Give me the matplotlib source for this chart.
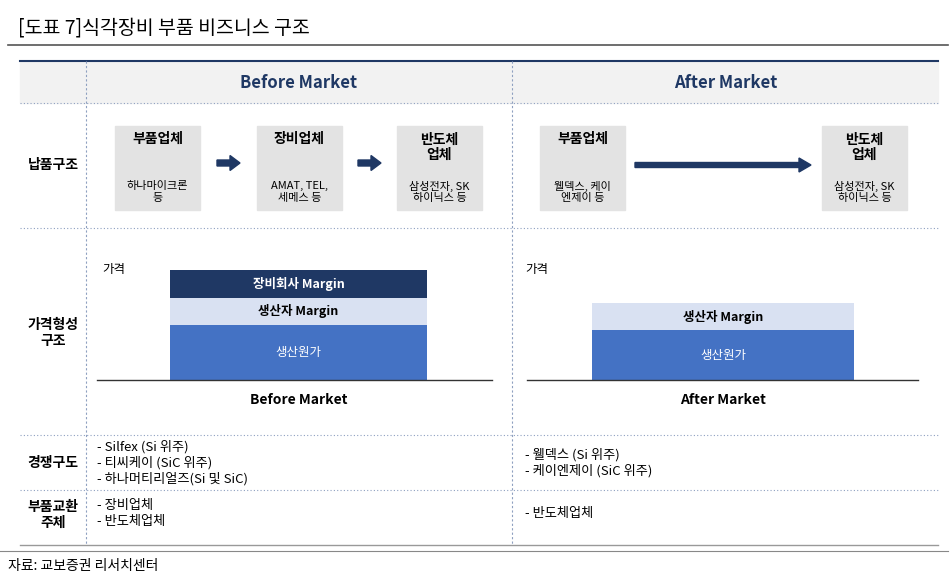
import matplotlib
matplotlib.use("Agg")
import matplotlib.pyplot as plt
from matplotlib.patches import Rectangle, FancyArrow

plt.rcParams['font.family'] = ['Noto Sans CJK KR', 'DejaVu Sans']

title = "[도표 7]식각장비 부품 비즈니스 구조"
headers = ["Before Market", "After Market"]
row_labels = ["납품구조", "가격형성\n구조", "경쟁구도", "부품교환\n주체"]
before_boxes = [("부품업체", "하나마이크론\n등"), ("장비업체", "AMAT, TEL,\n세메스 등"), ("반도체\n업체", "삼성전자, SK\n하이닉스 등")]
after_boxes = [("부품업체", "웰덱스, 케이\n엔제이 등"), ("반도체\n업체", "삼성전자, SK\n하이닉스 등")]
before_layers = ["생산원가", "생산자 Margin", "장비회사 Margin"]
before_vals = [55, 27, 28]
after_layers = ["생산원가", "생산자 Margin"]
after_vals = [50, 27]
layer_colors = ["#4472c4", "#d9e1f2", "#1f3864"]
layer_text = ["white", "black", "white"]
comp_before = ["- Silfex (Si 위주)", "- 티씨케이 (SiC 위주)", "- 하나머티리얼즈(Si 및 SiC)"]
comp_after = ["- 웰덱스 (Si 위주)", "- 케이엔제이 (SiC 위주)"]
exch_before = ["- 장비업체", "- 반도체업체"]
exch_after = ["- 반도체업체"]
source = "자료: 교보증권 리서치센터"

fig = plt.figure(figsize=(9.53, 5.78), dpi=100)
ax = fig.add_axes([0, 0, 1, 1])
ax.set_xlim(0, 953); ax.set_ylim(578, 0); ax.axis('off')

ax.text(18, 28, title, fontsize=14, va='center', ha='left')
ax.plot([8, 948], [45, 45], color='#555555', lw=1.2)

ax.add_patch(Rectangle((20, 61), 918, 42, color='#f2f2f2', zorder=0))
ax.plot([20, 938], [61, 61], color='#1f3864', lw=1.5)
ax.text(299, 83, headers[0], fontsize=12, weight='bold', color='#1f3864', ha='center', va='center')
ax.text(726, 83, headers[1], fontsize=12, weight='bold', color='#1f3864', ha='center', va='center')
for x in (86, 512):
    ax.plot([x, x], [61, 545], color='#8ea0c0', lw=0.8, ls=(0, (2, 2)))
for y in (103, 228, 435, 490):
    ax.plot([20, 938], [y, y], color='#8ea0c0', lw=0.8, ls=(0, (1, 2)))
ax.plot([20, 938], [545, 545], color='#999999', lw=1)

for lab, y in zip(row_labels, [165, 333, 463, 515]):
    ax.text(53, y, lab, fontsize=10, weight='bold', ha='center', va='center', linespacing=1.2)

def box(x0, t, s):
    ax.add_patch(Rectangle((x0, 126), 85, 84, color='#e3e3e3', zorder=1))
    ax.text(x0 + 42.5, 147 if '\n' in t else 139, t, fontsize=10, weight='bold', ha='center', va='center', linespacing=1.1, zorder=2)
    ax.text(x0 + 42.5, 192, s, fontsize=8, ha='center', va='center', linespacing=1.2, zorder=2)

for (t, s), x0 in zip(before_boxes, [115, 257, 397]):
    box(x0, t, s)
for (t, s), x0 in zip(after_boxes, [540, 822]):
    box(x0, t, s)
for x0 in (217, 358):
    ax.add_patch(FancyArrow(x0, 163, 23, 0, width=6, head_width=15, head_length=10, length_includes_head=True, color='#1f3864'))
ax.add_patch(FancyArrow(635, 165, 176, 0, width=5, head_width=14, head_length=12, length_includes_head=True, color='#1f3864'))

def stack(x0, x1, vals, names, gx, b0, b1, lbl_x, lbl):
    ax.text(gx, 270, "가격", fontsize=9, ha='left', va='center')
    bottom = 380
    for v, n, c, tc in zip(vals, names, layer_colors, layer_text):
        ax.bar((x0 + x1) / 2, -v, bottom=bottom, width=x1 - x0, color=c, zorder=2)
        ax.text((x0 + x1) / 2, bottom - v / 2, n, fontsize=9, weight='bold' if 'Margin' in n else 'normal',
                color=tc, ha='center', va='center', zorder=3)
        bottom -= v
    ax.plot([b0, b1], [380, 380], color='#333333', lw=1, zorder=3)
    ax.text(lbl_x, 400, lbl, fontsize=10, weight='bold', ha='center', va='center')

stack(170, 427, before_vals, before_layers, 102, 97, 492, 299, headers[0])
stack(592, 854, after_vals, after_layers, 525, 527, 918, 723, headers[1])

for i, s in enumerate(comp_before):
    ax.text(97, 447 + i * 16, s, fontsize=9.5, va='center')
for i, s in enumerate(comp_after):
    ax.text(525, 455 + i * 16, s, fontsize=9.5, va='center')
for i, s in enumerate(exch_before):
    ax.text(97, 505 + i * 16, s, fontsize=9.5, va='center')
for s in exch_after:
    ax.text(525, 514, s, fontsize=9.5, va='center')

ax.plot([0, 948], [551, 551], color='#888888', lw=0.8)
ax.text(8, 566, source, fontsize=10, va='center')

fig.savefig("out.png", dpi=100)
